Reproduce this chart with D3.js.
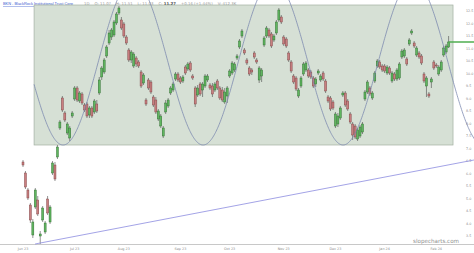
<!DOCTYPE html>
<html>
<head>
<meta charset="utf-8">
<script src="https://cdn.jsdelivr.net/npm/d3@7"></script>
<style>
  html, body { margin: 0; padding: 0; background: #fff; }
  svg { display: block; font-family: "DejaVu Sans", sans-serif; }
</style>
</head>
<body>
<div id="chart"></div>
<script>
// header
const ticker = "BKN - BlackRock Institutional Trust Corp"
const quoteHead = "1D    O: 11.07    H: 11.51    L: 11.03    C: "
const quoteLast = "11.27"
const quoteTail = "    +0.16 (+1.44%)    V: 412.3K"

// trading calendar
const firstDay = new Date(2023, 5, 1)
const lastDay = new Date(2024, 1, 8)
const holidays = ["2023-06-19", "2023-07-04", "2023-09-04", "2023-11-23", "2023-12-25", "2024-01-01", "2024-01-15"]

// daily candles
const opens = [6.47,6.03,5.35,4.75,3.55,4.67,4.95,3.51,4.15,3.67,4.99,4.07,6.03,6.35,6.67,7.83,9.03,8.43,7.63,7.43,
  8.31,8.99,9.43,8.91,9.19,8.75,8.79,8.35,8.63,8.47,8.79,9.23,9.87,10.07,10.71,11.23,11.47,11.55,12.03,12.43,
  12.15,11.99,11.47,10.95,10.55,10.31,10.63,10.47,10.07,9.63,8.95,9.75,9.67,9.07,8.95,8.19,7.91,7.51,8.47,8.71,
  9.23,9.35,9.79,9.99,9.83,9.71,10.27,10.19,10.43,9.91,9.43,9.15,9.59,9.35,9.51,9.75,9.55,9.51,9.35,9.71,
  9.43,9.35,8.87,9.11,9.91,10.03,10.15,10.63,11.07,11.51,10.95,10.55,10.23,10.15,10.83,10.55,9.75,9.91,11.15,11.51,
  11.75,11.59,11.35,11.63,12.15,12.27,11.47,11.39,10.83,10.47,9.91,9.83,9.11,9.51,9.99,10.15,10.15,10.07,9.83,9.59,
  10.03,9.75,10.03,9.71,9.07,9.03,8.87,7.91,7.99,8.23,9.15,9.23,8.91,8.39,7.99,7.91,7.39,7.51,7.67,8.99,
  9.27,9.43,9.03,9.71,10.31,10.47,10.31,10.31,10.03,10.23,9.71,9.99,9.79,9.83,10.67,10.71,10.59,11.19,11.63,11.23,
  10.75,10.83,10.71,9.99,9.51,9.19,9.67,10.47,10.35,9.99,10.15,10.75,10.87,11.07]
const highs = [6.55,6.11,5.43,4.83,4.19,5.43,5.11,3.71,4.71,4.11,5.11,4.75,6.51,6.47,7.15,8.15,9.11,8.51,8.07,7.91,
  8.51,9.51,9.51,9.31,9.27,8.83,8.87,8.71,8.71,8.99,8.95,9.87,10.31,10.63,11.15,11.75,11.83,12.15,12.47,12.71,
  12.27,12.07,11.55,11.03,10.95,10.87,10.71,10.55,10.15,10.03,9.03,9.83,9.75,9.15,9.07,8.59,8.39,7.91,8.95,9.03,
  9.51,9.67,10.07,10.07,9.91,9.95,10.35,10.47,10.51,9.99,9.51,9.55,9.67,9.67,9.99,9.99,9.63,9.63,9.67,9.79,
  9.51,9.47,9.43,9.51,10.19,10.51,10.47,10.79,11.39,11.79,11.03,10.63,10.31,10.23,10.91,10.63,10.31,10.23,11.51,11.91,
  11.83,11.67,11.59,12.15,12.63,12.35,11.55,11.47,10.91,10.55,9.99,9.91,9.43,9.91,10.47,10.51,10.23,10.15,9.91,9.87,
  10.19,9.99,10.11,9.79,9.15,9.11,8.95,8.47,8.43,8.71,9.31,9.31,8.99,8.47,8.07,7.99,7.83,7.95,8.07,9.35,
  9.75,9.51,9.31,10.11,10.59,10.55,10.39,10.39,10.35,10.31,10.11,10.07,10.23,10.47,10.99,11.03,10.67,11.43,11.79,11.31,
  11.11,10.91,10.79,10.07,9.91,9.27,9.87,10.55,10.43,10.35,10.55,11.11,11.19,11.51]
const lows = [6.27,5.39,4.95,4.03,3.43,4.59,4.31,3.19,4.07,3.59,4.35,3.99,5.95,5.71,6.59,7.75,8.47,8.07,7.55,7.31,
  8.23,8.91,8.87,8.83,8.75,8.47,8.23,8.23,8.23,8.39,8.43,9.15,9.75,9.99,10.63,11.15,11.35,11.47,11.95,12.35,
  11.75,11.43,11.15,10.47,10.43,10.23,10.27,10.23,9.43,9.55,8.71,9.35,9.19,8.67,8.39,8.11,7.83,7.43,8.39,8.63,
  9.15,9.27,9.71,9.67,9.59,9.63,9.95,10.11,10.07,9.75,8.67,9.07,9.11,9.07,9.43,9.67,9.35,9.07,9.27,9.35,
  8.95,8.87,8.79,8.83,9.83,9.95,10.07,10.55,10.99,11.43,10.75,10.35,9.91,9.95,10.59,10.39,9.63,9.67,11.07,11.43,
  11.43,11.03,11.27,11.55,12.07,11.99,11.11,11.03,10.47,10.03,9.59,9.31,9.03,9.43,9.91,10.07,9.83,9.79,9.43,9.47,
  9.95,9.67,9.71,9.23,8.83,8.51,8.55,7.83,7.87,8.15,9.07,8.67,8.51,7.99,7.35,7.39,7.31,7.43,7.59,8.91,
  9.19,9.11,8.95,9.63,10.23,10.19,10.07,10.03,9.95,9.95,9.63,9.71,9.71,9.75,10.59,10.63,10.31,11.11,11.55,11.03,
  10.67,10.59,10.35,9.63,9.07,9.03,9.43,10.15,10.23,9.91,10.07,10.67,10.79,11.03]
const closes = [6.35,5.47,5.03,4.15,4.07,5.35,4.39,3.59,4.63,4.03,4.43,4.67,6.43,5.79,7.07,8.07,8.55,8.15,7.99,7.83,
  8.43,9.43,8.95,9.23,8.83,8.55,8.31,8.63,8.31,8.91,8.51,9.75,10.23,10.55,11.07,11.63,11.75,12.07,12.39,12.63,
  11.83,11.51,11.23,10.55,10.87,10.79,10.39,10.31,9.51,9.95,8.79,9.43,9.27,8.75,8.47,8.51,8.31,7.83,8.83,8.95,
  9.43,9.59,9.99,9.75,9.67,9.87,10.03,10.39,10.15,9.83,8.79,9.43,9.19,9.59,9.91,9.91,9.43,9.19,9.59,9.43,
  9.03,8.95,9.27,9.43,10.11,10.43,10.39,10.71,11.31,11.71,10.83,10.43,9.99,10.07,10.67,10.47,10.23,10.15,11.43,11.83,
  11.51,11.11,11.51,12.07,12.55,12.07,11.19,11.11,10.55,10.11,9.67,9.39,9.35,9.83,10.39,10.43,9.91,9.87,9.51,9.79,
  10.11,9.91,9.79,9.31,8.91,8.59,8.63,8.39,8.31,8.63,9.23,8.75,8.59,8.07,7.55,7.47,7.75,7.87,7.99,9.27,
  9.67,9.19,9.23,10.03,10.51,10.27,10.15,10.11,10.27,10.03,10.03,9.79,10.15,10.39,10.91,10.95,10.39,11.35,11.71,11.11,
  11.03,10.67,10.43,9.71,9.83,9.11,9.79,10.23,10.31,10.27,10.47,11.03,11.11,11.27]

// drawing tools (price / day index)
const box = { from: 4.5, to: 174.8, high: 12.75, low: 7.15 }
const cycle = { trough: 16.3, period: 56.9, mid: 10.45, amp: 3.3, from: 4.5, to: 184 }
const trendline = [{ i: 4.9, p: 3.19 }, { i: 183.3, p: 6.55 }]

const width = 474, height = 253
const margin = { top: 5, right: 25, bottom: 11, left: 23 }

const fmt = d3.timeFormat("%Y-%m-%d")
const days = d3.timeDay.range(firstDay, d3.timeDay.offset(lastDay, 1))
  .filter(d => d.getDay() !== 0 && d.getDay() !== 6 && !holidays.includes(fmt(d)))
  .slice(0, closes.length)
const data = closes.map((c, i) => ({ i, date: days[i], o: opens[i], h: highs[i], l: lows[i], c }))

const x = d3.scaleLinear()
  .domain([0, data.length - 1])
  .range([margin.left, 448.6])

const y = d3.scaleLinear()
  .domain([3.27, 12.75])
  .range([height - margin.bottom, margin.top])

const svg = d3.select("#chart").append("svg")
  .attr("width", width)
  .attr("height", height)

// top quote line
svg.append("text")
  .attr("x", 3).attr("y", 5.2)
  .attr("font-family", "'Liberation Sans', sans-serif")
  .attr("font-size", 3.9)
  .attr("fill", "#3a5ccf")
  .attr("text-decoration", "underline")
  .text(ticker)

const q = svg.append("text")
  .attr("x", 84).attr("y", 5.2)
  .attr("font-size", 3.9)
  .attr("fill", "#9a9a9a")
  .attr("xml:space", "preserve")
q.append("tspan").text(quoteHead)
q.append("tspan").attr("font-weight", "bold").attr("fill", "#444").text(quoteLast)
q.append("tspan").text(quoteTail)

// shaded zone
svg.append("rect")
  .attr("x", x(box.from))
  .attr("y", y(box.high))
  .attr("width", x(box.to) - x(box.from))
  .attr("height", y(box.low) - y(box.high))
  .attr("fill", "#d6e0d5")
  .attr("stroke", "#a3afa2")
  .attr("stroke-width", 0.7)

// bottom axis
svg.append("line")
  .attr("x1", 0).attr("x2", width)
  .attr("y1", 244.5).attr("y2", 244.5)
  .attr("stroke", "#c8c8c8")
  .attr("stroke-width", 1)

const monthStarts = data.filter((d, i) => i === 0 || d.date.getMonth() !== data[i - 1].date.getMonth())
svg.append("g")
  .selectAll("text")
  .data(monthStarts)
  .join("text")
  .attr("x", d => x(d.i))
  .attr("y", 249.5)
  .attr("font-size", 3.4)
  .attr("fill", "#8a8a8a")
  .attr("text-anchor", "middle")
  .text(d => d3.timeFormat("%b %y")(d.date))

// right price labels
svg.append("g")
  .selectAll("text")
  .data(d3.range(3.5, 12.51, 0.5))
  .join("text")
  .attr("x", 466)
  .attr("y", d => y(d) + 1.2)
  .attr("font-size", 3.3)
  .attr("fill", "#8a8a8a")
  .text(d => d3.format(".1f")(d))

// candles
const candle = svg.append("g")
  .selectAll("g")
  .data(data)
  .join("g")

candle.append("line")
  .attr("x1", d => x(d.i)).attr("x2", d => x(d.i))
  .attr("y1", d => y(d.h)).attr("y2", d => y(d.l))
  .attr("stroke", "#4a4a4a")
  .attr("stroke-width", 0.6)

candle.append("rect")
  .attr("x", d => x(d.i) - 1)
  .attr("y", d => y(Math.max(d.o, d.c)))
  .attr("width", 2)
  .attr("height", d => Math.max(0.8, Math.abs(y(d.o) - y(d.c))))
  .attr("fill", d => d.c >= d.o ? "#5fb65f" : "#c97f80")
  .attr("stroke", d => d.c >= d.o ? "#2f6a2f" : "#7c3f40")
  .attr("stroke-width", 0.45)

// cycle line
const cyclePts = d3.range(cycle.from, cycle.to, 0.25)
  .map(t => [t, cycle.mid - cycle.amp * Math.cos(2 * Math.PI * (t - cycle.trough) / cycle.period)])
svg.append("path")
  .datum(cyclePts)
  .attr("fill", "none")
  .attr("stroke", "#7886ad")
  .attr("stroke-width", 0.75)
  .attr("d", d3.line().x(d => x(d[0])).y(d => y(d[1])))

// trendline
svg.append("path")
  .datum(trendline)
  .attr("fill", "none")
  .attr("stroke", "#8c8ce0")
  .attr("stroke-width", 0.8)
  .attr("d", d3.line().x(d => x(d.i)).y(d => y(d.p)))

// last price marker
const last = data[data.length - 1]
svg.append("line")
  .attr("x1", x(last.i)).attr("x2", width)
  .attr("y1", y(last.c)).attr("y2", y(last.c))
  .attr("stroke", "#4fae4f")
  .attr("stroke-width", 1.5)

// watermark
svg.append("text")
  .attr("x", 413).attr("y", 242.5)
  .attr("font-size", 5.6)
  .attr("fill", "#8f8f8f")
  .text("slopecharts.com")
</script>
</body>
</html>
